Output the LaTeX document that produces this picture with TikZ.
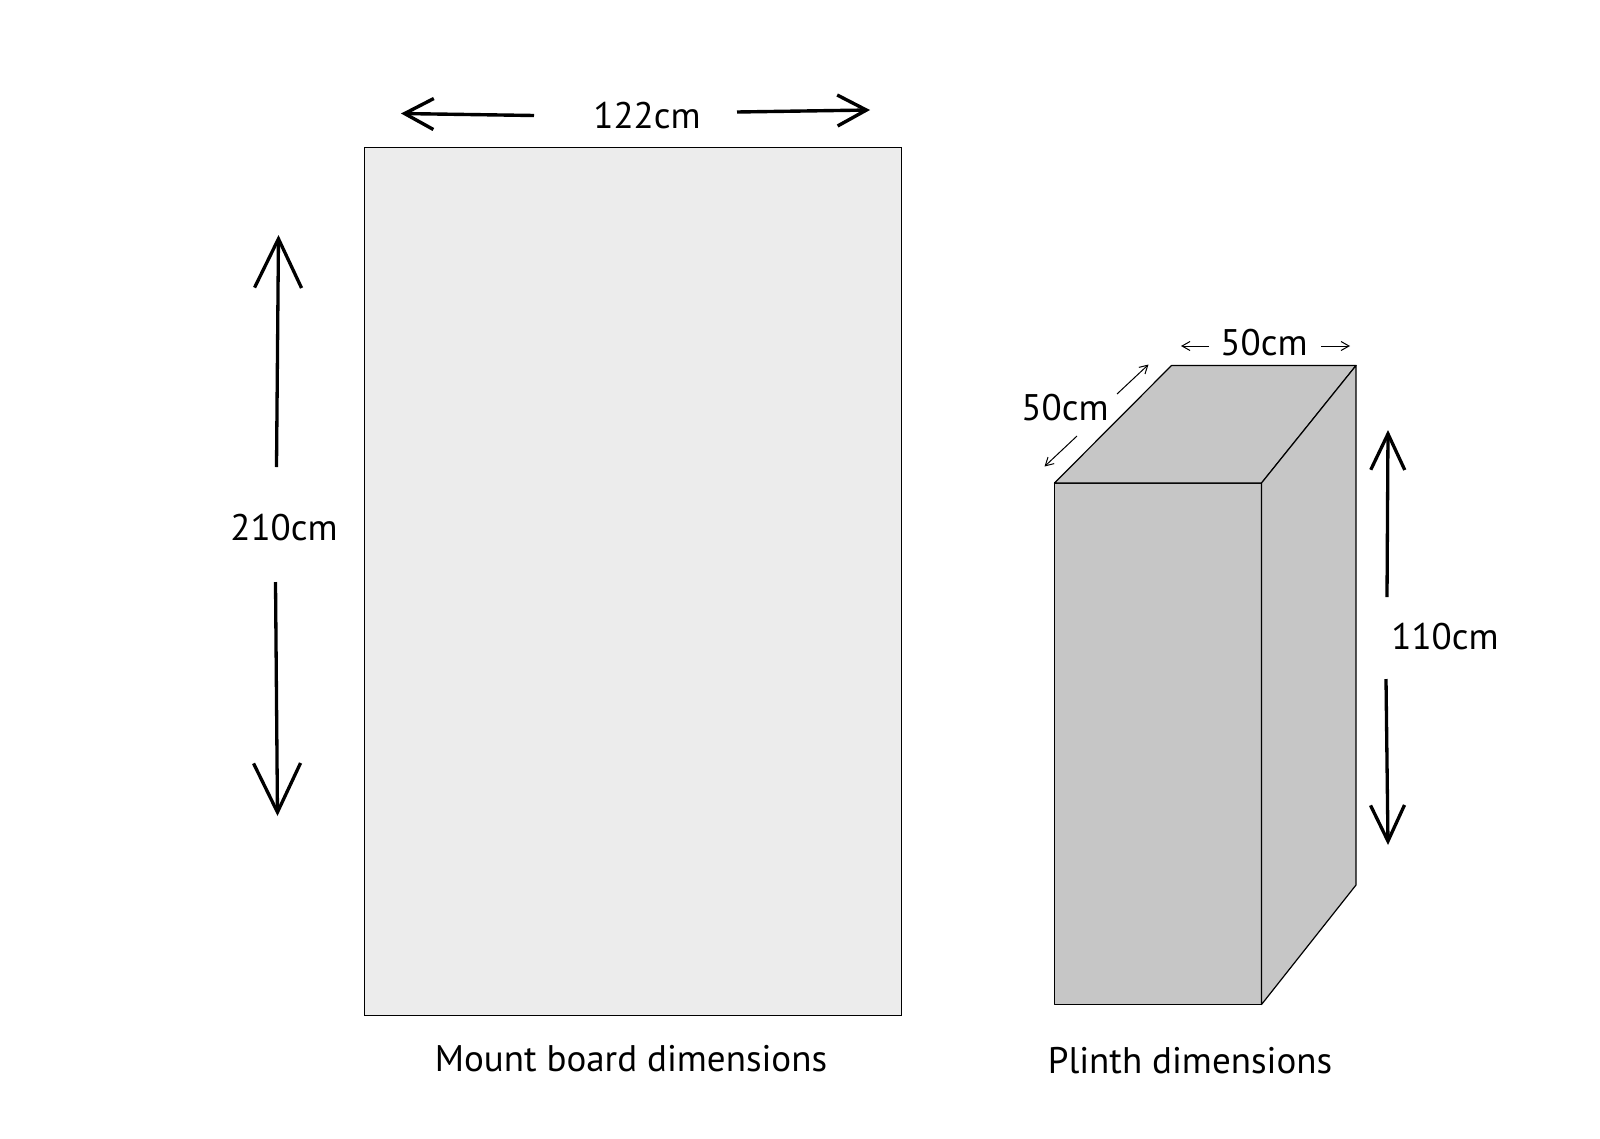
\documentclass[tikz,border=0pt]{standalone}
\usepackage{fontspec}
\setmainfont{PT Sans}
\usetikzlibrary{arrows.meta,positioning}
\definecolor{boardgrey}{HTML}{ECECEC}
\definecolor{plinthgrey}{HTML}{C6C6C6}

\begin{document}
\begin{tikzpicture}[x=1pt,y=-1pt,font=\fontsize{37}{42}\selectfont,
    face/.style={draw=black,line width=1.2pt,line join=round,fill=plinthgrey},
    bigarrow/.style={-{Straight Barb[length=49pt,width=47pt,line width=3.3pt]},line width=3.3pt},
    plintharrow/.style={-{Straight Barb[length=36pt,width=34pt,line width=3.3pt]},line width=3.3pt},
    midarrow/.style={-{Straight Barb[length=29pt,width=31pt,line width=3.4pt]},line width=3.4pt},
    tinyarrow/.style={-{Straight Barb[length=8pt,width=9pt,line width=1pt]},line width=1pt}]
  \useasboundingbox (0,0) rectangle (1600,1138);

  % mount board
  \node[draw=black,line width=1.2pt,fill=boardgrey,minimum width=537pt,minimum height=868pt,inner sep=0pt] (board) at (633,581.5) {};
  \node (boardwidth) at (647,115.5) {122cm};
  \node (boardheight) at (284,528) {210cm};
  \node (boardcaption) at (631,1059) {Mount board dimensions};

  \coordinate (bwl) at (534,115.5);
  \coordinate (bwlend) at (401,113.5);
  \coordinate (bwr) at (737,112);
  \coordinate (bwrend) at (870,110);
  \coordinate (bhu) at (276.5,467);
  \coordinate (bhuend) at (278.5,235);
  \coordinate (bhd) at (275.5,582);
  \coordinate (bhdend) at (277.5,816);
  \draw[midarrow] (bwl) -- (bwlend);
  \draw[midarrow] (bwr) -- (bwrend);
  \draw[bigarrow] (bhu) -- (bhuend);
  \draw[bigarrow] (bhd) -- (bhdend);

  % plinth
  \coordinate (fronttl) at (1054.5,483);
  \coordinate (fronttr) at (1261.5,483);
  \coordinate (frontbl) at (1054.5,1004.5);
  \coordinate (frontbr) at (1261.5,1004.5);
  \coordinate (backtl) at (1171.5,365.5);
  \coordinate (backtr) at (1356,365.5);
  \coordinate (backbr) at (1356,885);
  \draw[face] (fronttl) rectangle (frontbr);
  \draw[face] (fronttl) -- (backtl) -- (backtr) -- (fronttr) -- cycle;
  \draw[face] (fronttr) -- (backtr) -- (backbr) -- (frontbr) -- cycle;

  \node (plinthtop) at (1264,342.5) {50cm};
  \node (plinthside) at (1065,407.5) {50cm};
  \node (plinthheight) at (1445,636.5) {110cm};
  \node (plinthcaption) at (1190,1060.5) {Plinth dimensions};

  \coordinate (ptl) at (1209,346);
  \coordinate (ptlend) at (1181,346);
  \coordinate (ptr) at (1321,346);
  \coordinate (ptrend) at (1350,346);
  \coordinate (psu) at (1117,394);
  \coordinate (psuend) at (1148.5,364.5);
  \coordinate (psd) at (1077,436);
  \coordinate (psdend) at (1044.5,466.5);
  \coordinate (phu) at (1387,597);
  \coordinate (phuend) at (1388,430);
  \coordinate (phd) at (1386,679);
  \coordinate (phdend) at (1388,845);
  \draw[tinyarrow] (ptl) -- (ptlend);
  \draw[tinyarrow] (ptr) -- (ptrend);
  \draw[tinyarrow] (psu) -- (psuend);
  \draw[tinyarrow] (psd) -- (psdend);
  \draw[plintharrow] (phu) -- (phuend);
  \draw[plintharrow] (phd) -- (phdend);
\end{tikzpicture}
\end{document}
